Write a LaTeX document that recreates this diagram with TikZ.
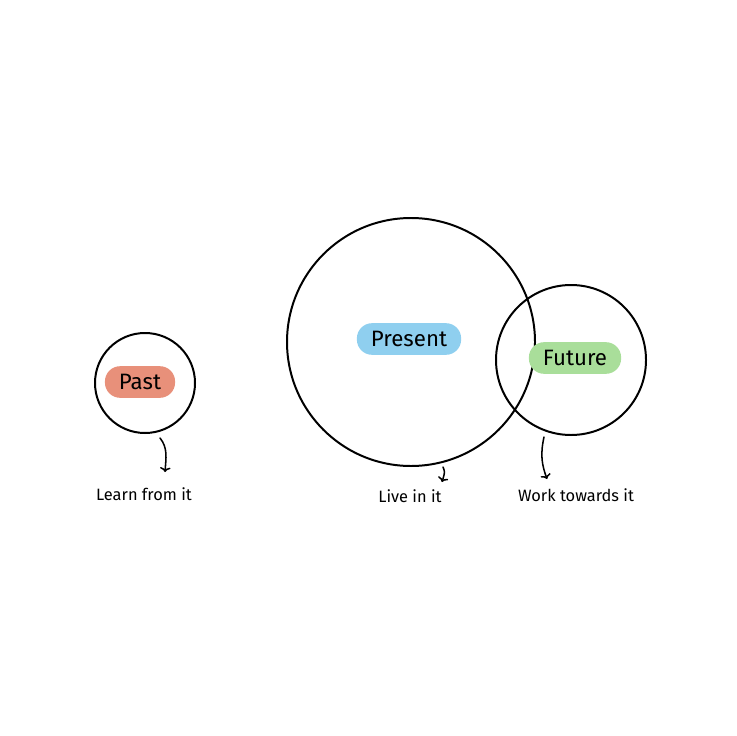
\documentclass[tikz,border=0pt]{standalone}
\usepackage{fontspec}
\setmainfont{Fira Sans}
\usetikzlibrary{positioning,arrows.meta}
\tikzset{>={To[length=4pt,width=9pt]}}
\tikzset{
  ring/.style={draw, line width=1.7pt, circle, inner sep=0pt},
  pill/.style={rounded corners=13pt, minimum height=27pt, inner xsep=12pt, font=\fontsize{19}{22}\selectfont},
  caption/.style={font=\fontsize{14}{16}\selectfont},
  hook/.style={->, line width=1.3pt, line cap=round}
}
\definecolor{pastred}{HTML}{E8907A}
\definecolor{presblue}{HTML}{8FCFEF}
\definecolor{futgreen}{HTML}{A9DE9A}
\begin{document}
\begin{tikzpicture}[x=0.03cm, y=-0.03cm]

\useasboundingbox (0,0) rectangle (736,736);

\node[ring, minimum size=100*0.03cm] (PastRing) at (145,383) {};

\node[ring, minimum size=248*0.03cm] (PresentRing) at (411,342) {};

\node[ring, minimum size=150*0.03cm] (FutureRing) at (571,360) {};

\node[pill, fill=pastred] (PastPill) at (140,382) {Past};
\node[pill, fill=presblue] (PresentPill) at (409,339) {Present};
\node[pill, fill=futgreen] (FuturePill) at (575,358) {Future};

\node[caption] (PastText) at (144,494) {Learn from it};
\node[caption] (PresentText) at (410,496) {Live in it};
\node[caption] (FutureText) at (576,495) {Work towards it};

\coordinate (PastTail) at (160,438);
\coordinate (PresentTail) at (443,467);
\coordinate (FutureTail) at (544,437);

\draw[hook] (PastTail) .. controls (168,448) and (166,458) .. (165,472);
\draw[hook] (PresentTail) .. controls (445,472) .. (442,482);
\draw[hook] (FutureTail) .. controls (540,455) and (542,465) .. (547,479);

\end{tikzpicture}
\end{document}
